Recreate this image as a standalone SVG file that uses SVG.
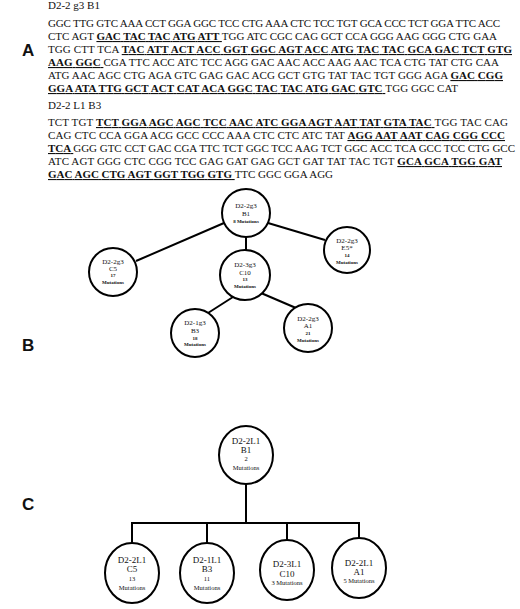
<svg xmlns="http://www.w3.org/2000/svg" width="520" height="609" viewBox="0 0 520 609">
<style>
.seq{font-family:"Liberation Serif","Times New Roman",serif;font-size:11px;fill:#111}
.b{font-weight:bold;text-decoration:underline}
.lab{font-family:"Liberation Sans",Arial,sans-serif;font-size:17px;font-weight:bold;fill:#111}
.nd{fill:#fff;stroke:#000;stroke-width:2}
.nt{font-family:"Liberation Serif","Times New Roman",serif;fill:#111;text-anchor:middle}
.s7{font-size:7px}
.s5{font-size:5px;font-weight:bold}
.s9{font-size:9px}
.s65{font-size:6.5px}
.edge{stroke:#000;stroke-width:2;fill:none}
</style>
<rect width="520" height="609" fill="#fff"/>

<g id="panelA">
<text class="lab" x="22" y="56">A</text>
<text class="seq" x="48" y="9">D2-2 g3 B1</text>
<text class="seq" x="48" y="27" textLength="452">GGC TTG GTC AAA CCT GGA GGC TCC CTG AAA CTC TCC TGT GCA CCC TCT GGA TTC ACC</text>
<text class="seq" x="48" y="40" textLength="449">CTC AGT <tspan class="b">GAC TAC TAC ATG ATT </tspan>TGG ATC CGC CAG GCT CCA GGG AAG GGG CTG GAA</text>
<text class="seq" x="48" y="53" textLength="464">TGG CTT TCA <tspan class="b">TAC ATT ACT ACC GGT GGC AGT ACC ATG TAC TAC GCA GAC TCT GTG</tspan></text>
<text class="seq" x="48" y="66" textLength="451"><tspan class="b">AAG GGC </tspan>CGA TTC ACC ATC TCC AGG GAC AAC ACC AAG AAC TCA CTG TAT CTG CAA</text>
<text class="seq" x="48" y="79" textLength="455">ATG AAC AGC CTG AGA GTC GAG GAC ACG GCT GTG TAT TAC TGT GGG AGA <tspan class="b">GAC CGG</tspan></text>
<text class="seq" x="48" y="92" textLength="410"><tspan class="b">GGA ATA TTG GCT ACT CAT ACA GGC TAC TAC ATG GAC GTC </tspan>TGG GGC CAT</text>

<text class="seq" x="48" y="109">D2-2 L1 B3</text>
<text class="seq" x="48" y="126" textLength="460">TCT TGT <tspan class="b">TCT GGA AGC AGC TCC AAC ATC GGA AGT AAT TAT GTA TAC </tspan>TGG TAC CAG</text>
<text class="seq" x="48" y="139" textLength="457">CAG CTC CCA GGA ACG GCC CCC AAA CTC CTC ATC TAT <tspan class="b">AGG AAT AAT CAG CGG CCC</tspan></text>
<text class="seq" x="48" y="152" textLength="467"><tspan class="b">TCA </tspan>GGG GTC CCT GAC CGA TTC TCT GGC TCC AAG TCT GGC ACC TCA GCC TCC CTG GCC</text>
<text class="seq" x="48" y="165" textLength="454">ATC AGT GGG CTC CGG TCC GAG GAT GAG GCT GAT TAT TAC TGT <tspan class="b">GCA GCA TGG GAT</tspan></text>
<text class="seq" x="48" y="178" textLength="285"><tspan class="b">GAC AGC CTG AGT GGT TGG GTG </tspan>TTC GGC GGA AGG</text>
</g>

<text class="lab" x="22" y="351">B</text>
<text class="lab" x="22" y="510">C</text>

<g id="connectors">
<line class="edge" x1="224" y1="223" x2="136" y2="261"/>
<line class="edge" x1="246" y1="236" x2="246" y2="251" stroke-width="3"/>
<line class="edge" x1="268" y1="223" x2="325" y2="240"/>
<line class="edge" x1="233" y1="297" x2="208" y2="313"/>
<line class="edge" x1="261" y1="293" x2="296" y2="308"/>
<line class="edge" x1="246" y1="484" x2="246" y2="523"/>
<polyline class="edge" points="132,543 132,523 359,523 359,538"/>
<line class="edge" x1="207" y1="523" x2="207" y2="543"/>
<line class="edge" x1="287" y1="523" x2="287" y2="540"/>
</g>

<g id="b_B1">
<circle class="nd" cx="246" cy="213" r="24"/>
<text class="nt s7" x="246" y="208">D2-2g3</text>
<text class="nt s7" x="246" y="216">B1</text>
<text class="nt s5" x="246" y="223">8 Mutations</text>
</g>
<g id="b_C5">
<circle class="nd" cx="113" cy="272" r="24"/>
<text class="nt s7" x="113" y="264">D2-2g3</text>
<text class="nt s7" x="113" y="271">C5</text>
<text class="nt s5" x="113" y="277">17</text>
<text class="nt s5" x="113" y="284">Mutations</text>
</g>
<g id="b_C10">
<circle class="nd" cx="245" cy="275" r="25"/>
<text class="nt s7" x="245" y="267">D2-3g3</text>
<text class="nt s7" x="245" y="275">C10</text>
<text class="nt s5" x="245" y="281">13</text>
<text class="nt s5" x="245" y="288">Mutations</text>
</g>
<g id="b_E5">
<circle class="nd" cx="347" cy="250" r="23"/>
<text class="nt s7" x="347" y="243">D2-2g3</text>
<text class="nt s7" x="347" y="250">E5*</text>
<text class="nt s5" x="347" y="257">14</text>
<text class="nt s5" x="347" y="264">Mutations</text>
</g>
<g id="b_B3">
<circle class="nd" cx="195" cy="333" r="24"/>
<text class="nt s7" x="195" y="325">D2-1g3</text>
<text class="nt s7" x="195" y="333">B3</text>
<text class="nt s5" x="195" y="340">18</text>
<text class="nt s5" x="195" y="346">Mutations</text>
</g>
<g id="b_A1">
<circle class="nd" cx="308" cy="328" r="24"/>
<text class="nt s7" x="308" y="321">D2-2g3</text>
<text class="nt s7" x="308" y="328">A1</text>
<text class="nt s5" x="308" y="335">21</text>
<text class="nt s5" x="308" y="342">Mutations</text>
</g>

<g id="c_B1">
<ellipse class="nd" cx="246" cy="455" rx="27" ry="29"/>
<text class="nt s9" x="246" y="444">D2-2L1</text>
<text class="nt s9" x="246" y="453">B1</text>
<text class="nt s65" x="246" y="461">2</text>
<text class="nt s65" x="246" y="470">Mutations</text>
</g>
<g id="c_C5">
<ellipse class="nd" cx="132" cy="573" rx="27" ry="30"/>
<text class="nt s9" x="132" y="563">D2-2L1</text>
<text class="nt s9" x="132" y="572">C5</text>
<text class="nt s65" x="132" y="581">13</text>
<text class="nt s65" x="132" y="590">Mutations</text>
</g>
<g id="c_B3">
<ellipse class="nd" cx="207" cy="573" rx="27" ry="30"/>
<text class="nt s9" x="207" y="563">D2-1L1</text>
<text class="nt s9" x="207" y="572">B3</text>
<text class="nt s65" x="207" y="581">11</text>
<text class="nt s65" x="207" y="590">Mutations</text>
</g>
<g id="c_C10">
<ellipse class="nd" cx="287" cy="570" rx="27" ry="30"/>
<text class="nt s9" x="287" y="567">D2-3L1</text>
<text class="nt s9" x="287" y="577">C10</text>
<text class="nt s65" x="287" y="585">3 Mutations</text>
</g>
<g id="c_A1">
<ellipse class="nd" cx="359" cy="568" rx="27" ry="30"/>
<text class="nt s9" x="359" y="566">D2-2L1</text>
<text class="nt s9" x="359" y="575">A1</text>
<text class="nt s65" x="359" y="583">5 Mutations</text>
</g>
</svg>
